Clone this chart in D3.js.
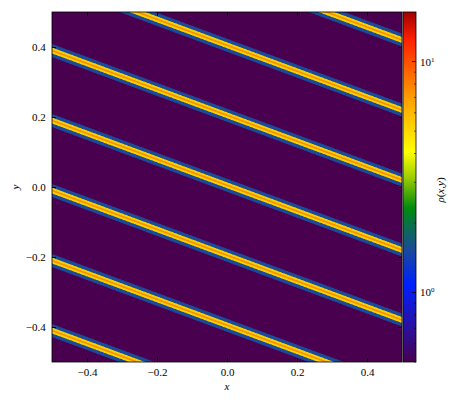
<!DOCTYPE html>
<html><head><meta charset="utf-8">
<script src="https://cdn.jsdelivr.net/npm/d3@7"></script>
<style>body{margin:0;background:#fff}svg{font-family:"Liberation Serif","DejaVu Serif",serif}</style>
</head><body>
<svg id="c" width="474" height="402"></svg>
<script>
// data / parameters
const xTicks = [-0.4, -0.2, 0.0, 0.2, 0.4];
const yTicks = [-0.4, -0.2, 0.0, 0.2, 0.4];
const cbTicks = [1, 10];
const stripeSlope = -0.37;      // stripes follow y = c + slope*x
const stripeSpacing = 0.2;      // vertical spacing between stripes
const stripePhase = 0.005;      // c ≡ phase (mod spacing)
const rhoBackground = 0.5;
const rhoPeak = 8.0;
const stripeSigma = 0.0086;
// filled-contour bands: [lower t bound, colour]
const bandLevels = [0.0, 0.266, 0.685, 0.80];
const bandColors = ["#48004f", "#1a4a9a", "#f8d000", "#f89000"];
const cmapStops = [
  [0.00, "#48004f"], [0.10, "#2a10a0"], [0.22, "#0020ff"], [0.32, "#1a4a9a"],
  [0.44, "#008a10"], [0.53, "#a0d000"], [0.60, "#ffff00"], [0.76, "#ff9a00"],
  [0.92, "#ff2000"], [1.00, "#a00000"]
];

const L = 52, T = 12, W = 350, H = 350;
const svg = d3.select("#c");
const x = d3.scaleLinear().domain([-0.5, 0.5]).range([L, L + W]);
const y = d3.scaleLinear().domain([-0.5, 0.5]).range([T + H, T]);
const cLog = d3.scaleLog().domain([0.5, 16.4]).range([0, 1]).clamp(true);
const band = d3.scaleThreshold().domain(bandLevels.slice(1)).range(bandColors);
const colorField = v => band(cLog(v));

// field image (2x supersampled for smooth edges)
const n = 700;
const cv = document.createElement("canvas"); cv.width = n; cv.height = n;
const ctx = cv.getContext("2d"); const img = ctx.createImageData(n, n);
for (let j = 0; j < n; j++) for (let i = 0; i < n; i++) {
  const xv = x.invert(L + (i + 0.5) / 2), yv = y.invert(T + (j + 0.5) / 2);
  let c = yv - stripeSlope * xv - stripePhase;
  let d = c - Math.round(c / stripeSpacing) * stripeSpacing;
  const rho = rhoBackground + rhoPeak * Math.exp(-d * d / (2 * stripeSigma * stripeSigma));
  const col = d3.rgb(colorField(rho)); const k = 4 * (j * n + i);
  img.data[k] = col.r; img.data[k + 1] = col.g; img.data[k + 2] = col.b; img.data[k + 3] = 255;
}
ctx.putImageData(img, 0, 0);
svg.append("image").attr("x", L).attr("y", T).attr("width", W).attr("height", H).attr("href", cv.toDataURL());

// axes
const fmt = v => (v < 0 ? "\u2212" : "") + Math.abs(v).toFixed(1);
svg.append("rect").attr("x", L).attr("y", T).attr("width", W).attr("height", H).attr("fill", "none").attr("stroke", "#000").attr("stroke-width", 0.8);
const ax = svg.append("g").attr("transform", `translate(0,${T + H})`).call(d3.axisBottom(x).tickValues(xTicks).tickFormat(fmt).tickSizeInner(-4).tickSizeOuter(0));
const ay = svg.append("g").attr("transform", `translate(${L},0)`).call(d3.axisLeft(y).tickValues(yTicks).tickFormat(fmt).tickSizeInner(-4).tickSizeOuter(0));
svg.append("g").attr("transform", `translate(0,${T})`).call(d3.axisTop(x).tickValues(xTicks).tickFormat("").tickSizeInner(-4).tickSizeOuter(0));
svg.append("g").attr("transform", `translate(${L + W},0)`).call(d3.axisRight(y).tickValues(yTicks).tickFormat("").tickSizeInner(-4).tickSizeOuter(0));
svg.selectAll(".domain").remove();
svg.selectAll(".tick text").attr("font-size", 11).attr("fill", "#000").attr("font-family", "Liberation Serif");
ax.selectAll(".tick text").attr("dy", "1.0em");
ay.selectAll(".tick text").attr("dx", "-0.3em");
svg.append("text").attr("x", L + W / 2).attr("y", 390).attr("text-anchor", "middle").attr("font-style", "italic").attr("font-size", 11).text("x");
svg.append("text").attr("x", 19).attr("y", T + H / 2).attr("text-anchor", "middle").attr("font-style", "italic").attr("font-size", 11).attr("transform", `rotate(-90,19,${T + H / 2})`).text("y");

// colorbar
const CX = 403, CW = 13;
const cy = d3.scaleLog().domain([0.5, 16.4]).range([T + H, T]);
const defs = svg.append("defs");
const lg = defs.append("linearGradient").attr("id", "cb").attr("x1", 0).attr("y1", 1).attr("x2", 0).attr("y2", 0);
cmapStops.forEach(s => lg.append("stop").attr("offset", s[0]).attr("stop-color", s[1]));
svg.append("rect").attr("x", CX).attr("y", T).attr("width", CW).attr("height", H).attr("fill", "url(#cb)").attr("stroke", "#000").attr("stroke-width", 0.8);
const minor = [0.5,0.6,0.7,0.8,0.9,2,3,4,5,6,7,8,9].filter(v => v >= 0.5 && v <= 16.4);
svg.append("g").selectAll("line").data(minor).join("line")
  .attr("x1", CX + CW - 2).attr("x2", CX + CW).attr("y1", d => cy(d)).attr("y2", d => cy(d)).attr("stroke", "#000").attr("stroke-width", 0.6);
svg.append("g").selectAll("line").data(cbTicks).join("line")
  .attr("x1", CX + CW - 4).attr("x2", CX + CW).attr("y1", d => cy(d)).attr("y2", d => cy(d)).attr("stroke", "#000").attr("stroke-width", 0.8);
const lab = svg.append("g").selectAll("text").data(cbTicks).join("text")
  .attr("x", CX + CW + 4).attr("y", d => cy(d) + 4).attr("font-size", 11).attr("font-family", "Liberation Serif");
lab.append("tspan").text("10");
lab.append("tspan").attr("dy", -4).attr("font-size", 7).text(d => Math.round(Math.log10(d)));
svg.append("text").attr("transform", `translate(444,190) rotate(-90)`).attr("text-anchor", "middle").attr("font-size", 11).attr("font-family", "Liberation Serif")
  .html('<tspan font-style="italic">ρ</tspan>(<tspan font-style="italic">x</tspan>,<tspan font-style="italic">y</tspan>)');
</script></body></html>
